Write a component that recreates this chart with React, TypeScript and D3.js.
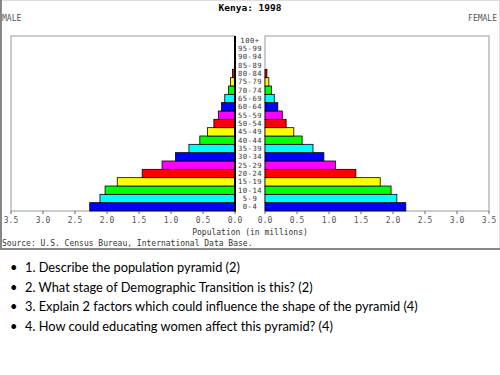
import React from "react";
import * as d3 from "d3";

const ageGroups = ["0-4","5-9","10-14","15-19","20-24","25-29","30-34","35-39","40-44","45-49","50-54","55-59","60-64","65-69","70-74","75-79","80-84","85-89","90-94","95-99","100+"];
const maleValues = [2.27,2.11,2.03,1.84,1.45,1.14,0.93,0.72,0.55,0.43,0.33,0.26,0.21,0.16,0.10,0.07,0.04,0,0,0,0];
const femaleValues = [2.20,2.06,1.97,1.80,1.42,1.10,0.92,0.75,0.58,0.45,0.33,0.27,0.20,0.145,0.10,0.06,0.03,0,0,0,0];
const barColors = ["#0000ff","#00ffff","#00ff00","#ffff00","#ff0000","#ff00ff"];
const xTicks = [0,0.5,1,1.5,2,2.5,3,3.5];
const questions = [
  "1. Describe the population pyramid (2)",
  "2. What stage of Demographic Transition is this? (2)",
  "3. Explain 2 factors which could influence the shape of the pyramid (4)",
  "4. How could educating women affect this pyramid? (4)",
];

const mono = "'DejaVu Sans Mono', 'Liberation Mono', monospace";

export default function App() {
  const top = 36, bottom = 211;
  const xL = d3.scaleLinear().domain([0, 3.5]).range([235, 11]);
  const xR = d3.scaleLinear().domain([0, 3.5]).range([265, 489]);
  const y = d3.scaleBand<string>().domain([...ageGroups].reverse()).range([top, bottom]).paddingInner(0);
  const bh = y.bandwidth();
  return (
    <svg width={500} height={375} style={{ position: "fixed", left: 0, top: 0, background: "#fff" }}>
      {/* chart frame */}
      <rect x={0.5} y={0.5} width={499} height={248} fill="#fff" stroke="#ddd" />
      <line x1={1} x2={1} y1={0} y2={249} stroke="#666" strokeWidth={1.5} />
      <line x1={0} x2={500} y1={249} y2={249} stroke="#888" strokeWidth={2} />
      <text x={250} y={11} textAnchor="middle" fontFamily={mono} fontWeight="bold" fontSize={9.5} fill="#000">Kenya: 1998</text>
      <text x={2} y={21} fontFamily={mono} fontSize={8} fill="#555">MALE</text>
      <text x={497} y={21} textAnchor="end" fontFamily={mono} fontSize={8} fill="#555">FEMALE</text>
      {/* boxes */}
      <rect x={xL(3.5)} y={top} width={xL(0) - xL(3.5)} height={bottom - top} fill="none" stroke="#999" />
      <rect x={xR(0)} y={top} width={xR(3.5) - xR(0)} height={bottom - top} fill="none" stroke="#999" />
      {ageGroups.map((a, i) => (
        <g key={a}>
          {maleValues[i] > 0 && (
            <rect x={xL(maleValues[i])} y={y(a)!} width={xL(0) - xL(maleValues[i])} height={bh}
              fill={barColors[i % 6]} stroke="#000" strokeWidth={0.8} />
          )}
          {femaleValues[i] > 0 && (
            <rect x={xR(0)} y={y(a)!} width={xR(femaleValues[i]) - xR(0)} height={bh}
              fill={barColors[i % 6]} stroke="#000" strokeWidth={0.8} />
          )}
          <text x={250} y={y(a)! + bh / 2 + 2.6} textAnchor="middle" fontFamily={mono} fontSize={7.2} letterSpacing={0.5} fill="#333">{a}</text>
        </g>
      ))}
      <line x1={xL(0)} x2={xL(0)} y1={top} y2={bottom + 1} stroke="#000" strokeWidth={2} />
      {xTicks.map((t) => (
        <g key={t}>
          <line x1={xL(t)} x2={xL(t)} y1={bottom} y2={bottom + 3} stroke="#666" />
          <line x1={xR(t)} x2={xR(t)} y1={bottom} y2={bottom + 3} stroke="#666" />
          <text x={xL(t)} y={223} textAnchor="middle" fontFamily={mono} fontSize={8} fill="#555">{t.toFixed(1)}</text>
          <text x={xR(t)} y={223} textAnchor="middle" fontFamily={mono} fontSize={8} fill="#555">{t.toFixed(1)}</text>
        </g>
      ))}
      <text x={250} y={235} textAnchor="middle" fontFamily={mono} fontSize={8} fill="#333">Population (in millions)</text>
      <text x={2} y={246} fontFamily={mono} fontSize={8} fill="#333">Source: U.S. Census Bureau, International Data Base.</text>
      {/* questions */}
      {questions.map((q, i) => (
        <g key={q} fontFamily="Lato, 'Open Sans', sans-serif" fontSize={12.8} fill="#000">
          <text x={10} y={272 + i * 19.5}>•</text>
          <text x={25} y={272 + i * 19.5}>{q}</text>
        </g>
      ))}
    </svg>
  );
}
